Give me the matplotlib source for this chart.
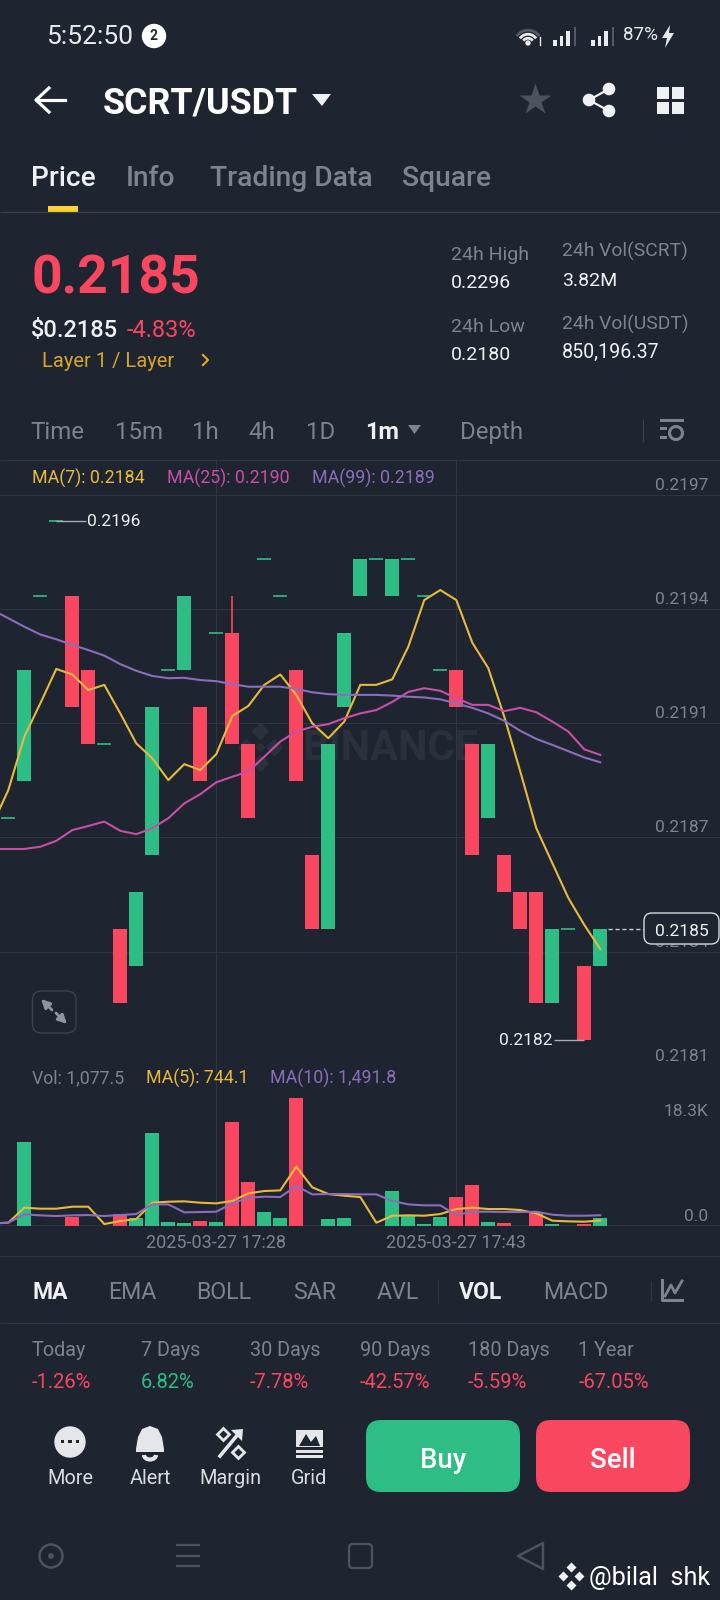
import numpy as np
import matplotlib
matplotlib.use('Agg')
import matplotlib.pyplot as plt
from matplotlib.patches import Circle, Rectangle, Polygon, FancyBboxPatch, Arc
from matplotlib.transforms import ScaledTranslation

plt.rcParams['font.family'] = ['Roboto', 'DejaVu Sans']

# candles, left to right, one per minute
opens = [0.2188, 0.2189, 0.2194, 0.2196, 0.2194, 0.2192, 0.2190, 0.2185, 0.2184, 0.2187,
         0.2192, 0.2192, 0.2191, 0.2193, 0.2193, 0.2190, 0.2195, 0.2194, 0.2192, 0.2187,
         0.2185, 0.2191, 0.2194, 0.2195, 0.2194, 0.2195, 0.2194, 0.2192, 0.2192, 0.2190,
         0.2188, 0.2187, 0.2186, 0.2186, 0.2183, 0.2185, 0.2184, 0.2184]
closes = [0.2188, 0.2192, 0.2194, 0.2196, 0.2191, 0.2190, 0.2190, 0.2183, 0.2186, 0.2191,
          0.2192, 0.2194, 0.2189, 0.2193, 0.2190, 0.2188, 0.2195, 0.2194, 0.2189, 0.2185,
          0.2190, 0.2193, 0.2195, 0.2195, 0.2195, 0.2195, 0.2194, 0.2192, 0.2191, 0.2187,
          0.2190, 0.2186, 0.2185, 0.2183, 0.2185, 0.2185, 0.2182, 0.2185]
is_up = [1, 1, 1, 1, 0, 0, 1, 0, 1, 1, 1, 1, 0, 1, 0, 0, 1, 1, 0, 0,
         1, 1, 1, 1, 1, 1, 1, 1, 0, 0, 1, 0, 0, 0, 1, 1, 0, 1]
wick_index = 14
wick_high = 0.2194

# moving averages start one step left of the first candle, it runs off the edge
ma7 = [0.218781, 0.218875, 0.219019, 0.219109, 0.219202, 0.219187, 0.219145, 0.219159, 0.219082, 0.219001,
       0.218961, 0.218902, 0.218945, 0.218929, 0.218972, 0.219075, 0.219102, 0.219159, 0.219187, 0.219132,
       0.219055, 0.219015, 0.219060, 0.219159, 0.219159, 0.219174, 0.219262, 0.219388, 0.219415, 0.219388,
       0.219273, 0.219204, 0.219073, 0.218925, 0.218772, 0.218678, 0.218584, 0.218511, 0.218446]
ma25 = [0.218716, 0.218716, 0.218716, 0.218722, 0.218738, 0.218767, 0.218778, 0.218790, 0.218765, 0.218756,
        0.218772, 0.218799, 0.218839, 0.218864, 0.218896, 0.218911, 0.218925, 0.218965, 0.219006, 0.219033,
        0.219046, 0.219053, 0.219069, 0.219082, 0.219091, 0.219113, 0.219140, 0.219150, 0.219143, 0.219123,
        0.219105, 0.219105, 0.219088, 0.219097, 0.219085, 0.219060, 0.219033, 0.218985, 0.218970]
ma99 = [0.219361, 0.219339, 0.219316, 0.219295, 0.219282, 0.219267, 0.219253, 0.219238, 0.219215, 0.219197,
        0.219183, 0.219177, 0.219178, 0.219172, 0.219169, 0.219161, 0.219154, 0.219154, 0.219154, 0.219148,
        0.219139, 0.219134, 0.219132, 0.219132, 0.219132, 0.219130, 0.219127, 0.219125, 0.219120, 0.219109,
        0.219097, 0.219082, 0.219062, 0.219035, 0.219013, 0.218997, 0.218980, 0.218963, 0.218950]

volumes = [0, 12010, 0, 0, 1190, 0, 0, 1716, 1144, 13300,
           477, 381, 667, 572, 14825, 6197, 2002, 1049, 18300, 0,
           906, 1096, 0, 0, 4957, 1430, 238, 1192, 4100, 5768,
           572, 334, 0, 1906, 286, 0, 238, 1077.5]
vol_ma5 = [334, 429, 2574, 2431, 2431, 2717, 2717, 238, 667, 953,
           3289, 3432, 3480, 3289, 3194, 3528, 4624, 4958, 5053, 8438,
           5482, 4529, 4290, 4100, 429, 1430, 1478, 1430, 1668, 2384,
           2574, 2384, 2384, 2240, 1764, 715, 620, 572, 744.1]
vol_ma10 = [334, 429, 1621, 1478, 1382, 1478, 1525, 1382, 1525, 1668,
            3051, 3051, 1907, 1954, 2002, 3194, 4004, 4147, 4100, 5673,
            4481, 4529, 4529, 4481, 4481, 3528, 3051, 2908, 2908, 1525,
            2002, 2002, 1954, 1954, 2002, 1573, 1430, 1430, 1491.8]

price_ticks = [0.219671, 0.219363, 0.219055, 0.218747, 0.218439, 0.218131]
vol_ticks = [18300, 0]
vol_tick_labels = ['18.3K', '0.0']
time_ticks = [13, 28]
time_labels = ['2025-03-27 17:28', '2025-03-27 17:43']

BG = '#1E2430'
RED = '#F9475F'
GREEN = '#2EBD85'
YELLOW = '#E8BA3C'
PINK = '#C650A6'
PURPLE = '#8B6DBB'
GRID = '#2F3541'
GREY = '#7C8491'
WHITE = '#EEF0F3'
ICON = '#4C535F'

W, H = 720, 1600
fig = plt.figure(figsize=(W / 100, H / 100), dpi=100, facecolor=BG)


def px_axes(top, bottom, zorder):
    a = fig.add_axes([0, 1 - bottom / H, 1, (bottom - top) / H], zorder=zorder)
    a.patch.set_alpha(0)
    for s in a.spines.values():
        s.set_visible(False)
    return a


def nudge(label, dy):
    # dy in pixels, up is positive
    label.set_transform(label.get_transform() + ScaledTranslation(0, dy / 100, fig.dpi_scale_trans))


bg = px_axes(0, H, 0)
main = px_axes(460, 1065.7, 1)
vol = px_axes(1065.7, 1225.7, 1)
ui = px_axes(0, H, 2)
for a in (bg, ui):
    a.set_xlim(0, W)
    a.set_ylim(H, 0)
    a.axis('off')

# candle chart
idx = np.arange(len(opens))
ma_idx = np.arange(-1, len(opens))
colors = [GREEN if u else RED for u in is_up]
o = np.array(opens)
c = np.array(closes)
xlim = (-8.3 / 16, (W - 8.3) / 16)
bw = 14.3 / 16

main.set_xlim(*xlim)
main.set_ylim(0.218131, 0.219766)
main.bar(idx, np.abs(c - o), bottom=np.minimum(o, c), width=bw, color=colors, zorder=3)
flat = o == c
main.hlines(o[flat], idx[flat] - 0.44, idx[flat] + 0.44, color=GREEN, lw=1.2, zorder=3)
main.vlines(wick_index, opens[wick_index], wick_high, color=RED, lw=1.2, zorder=3)
main.plot(ma_idx, ma7, color=YELLOW, lw=1.5, zorder=4)
main.plot(ma_idx, ma25, color=PINK, lw=1.5, zorder=4)
main.plot(ma_idx, ma99, color=PURPLE, lw=1.5, zorder=4)

main.set_yticks(price_ticks)
main.set_yticklabels(['%.4f' % p for p in price_ticks], ha='right', va='bottom')
main.yaxis.tick_right()
main.tick_params(axis='y', length=0, pad=-8.6, labelsize=12.5, labelcolor=GREY)
for lab in main.get_yticklabels():
    nudge(lab, 2)
main.set_xticks(time_ticks)
main.tick_params(axis='x', length=0, labelbottom=False)
main.grid(color=GRID, lw=0.8, zorder=0)
main.set_axisbelow(True)

# volume panel
vol.set_xlim(*xlim)
vol.set_ylim(0, 22880)
vol.bar(idx, volumes, width=bw, color=colors, zorder=3)
vol.plot(ma_idx, vol_ma5, color=YELLOW, lw=1.5, zorder=4)
vol.plot(ma_idx, vol_ma10, color=PURPLE, lw=1.5, zorder=4)
vol.set_yticks(vol_ticks)
vol.set_yticklabels(vol_tick_labels, ha='right')
vol.yaxis.tick_right()
vol.tick_params(axis='y', length=0, pad=-8.6, labelsize=12.5, labelcolor=GREY)
vol.get_yticklabels()[0].set_va('top')
vol.get_yticklabels()[1].set_va('bottom')
nudge(vol.get_yticklabels()[0], -6)
nudge(vol.get_yticklabels()[1], 2)
vol.set_xticks(time_ticks)
vol.set_xticklabels(time_labels)
vol.tick_params(axis='x', length=0, pad=6, labelsize=13, labelcolor=GREY)
vol.grid(axis='x', color=GRID, lw=0.8, zorder=0)
vol.axhline(0, color=GRID, lw=1.2, zorder=1)
vol.set_axisbelow(True)


def t(x, y, s, size, color=WHITE, ha='left', weight='normal', ax=ui):
    ax.text(x, y + 1.5, s, fontsize=size, color=color, ha=ha, va='center', fontweight=weight)


def hline(y, x0=0, x1=W, color=GRID, lw=0.9):
    ui.plot([x0, x1], [y, y], color=color, lw=lw, solid_capstyle='butt')


def vline(x, y0, y1, color=GRID, lw=0.9):
    ui.plot([x, x], [y0, y1], color=color, lw=lw, solid_capstyle='butt')


def rect(x, y, w, h, color):
    ui.add_patch(Rectangle((x, y), w, h, color=color, lw=0))


def rbox(x0, y0, x1, y1, r, face, edge='none', lw=0, z=5):
    ui.add_patch(FancyBboxPatch((x0 + r, y0 + r), x1 - x0 - 2 * r, y1 - y0 - 2 * r,
                                boxstyle='round,pad=%s,rounding_size=%s' % (r, r),
                                fc=face, ec=edge, lw=lw, zorder=z))


# watermark behind the candles
WM = '#2A303C'
for cx, cy, ms in [(260, 731, 11), (246, 747, 11), (274, 747, 11), (260, 763, 11), (260, 747, 6)]:
    bg.plot(cx, cy, marker='D', ms=ms * 0.72, color=WM, ls='none')
bg.text(390, 749, 'BINANCE', fontsize=30, color=WM, fontweight='bold', ha='center', va='center')

# status bar
t(46, 35, '5:52:50', 19, '#E8EAED')
ui.add_patch(Circle((154, 36), 11.5, color='white'))
ui.text(154, 36.5, '2', fontsize=10, color=BG, ha='center', va='center', fontweight='bold')
for r, col in [(24, '#555B66'), (17, '#E8EAED'), (10, '#E8EAED')]:
    ui.add_patch(Arc((528, 44), r * 1.15, r * 1.15, theta1=215, theta2=325, color=col, lw=2))
ui.add_patch(Circle((528, 43), 2, color='#E8EAED'))
ui.plot([540, 540], [37, 45], color='#E8EAED', lw=1)
for x0 in (553, 591):
    for k, h in enumerate((6, 10, 15)):
        rect(x0 + k * 6.5, 46 - h, 3.5, h, '#E8EAED')
    rect(x0 + 21, 27, 2, 19, '#555B66')
t(623, 34, '87%', 13.5, '#E8EAED')
ui.add_patch(Polygon([[670, 25], [662, 38], [667, 38], [665, 48], [674, 33], [669, 33]], color='#E8EAED', lw=0))

# title bar
ui.plot([65, 37], [100, 100], color='white', lw=2.3)
ui.plot([49, 36, 49], [88, 100, 112], color='white', lw=2.3)
t(103, 102, 'SCRT/USDT', 25.8, 'white', weight='bold')
ui.add_patch(Polygon([[312, 94], [331, 94], [322, 106]], color=WHITE, lw=0))
ui.plot(535, 100, marker='*', ms=24, color=ICON, mec='none')
for x, y in [(609, 89), (589, 100), (609, 111)]:
    ui.add_patch(Circle((x, y), 5.6, color=WHITE))
ui.plot([609, 589, 609], [89, 100, 111], color=WHITE, lw=1.6)
for x, y in [(657, 87), (672, 87), (657, 102), (672, 102)]:
    rect(x, y, 11.5, 11.5, WHITE)

# tabs
t(31, 177, 'Price', 20.2, WHITE, weight='medium')
t(126, 177, 'Info', 20.2, GREY, weight='medium')
t(210, 177, 'Trading Data', 20.3, GREY, weight='medium')
t(402, 177, 'Square', 20.3, GREY, weight='medium')
rect(48, 206, 30, 6, '#FCD535')
hline(212, color='#3A404B')

# price block
t(31, 277, '0.2185', 38.5, RED, weight='bold')
t(31, 329, '$0.2185', 17, WHITE, weight='medium')
t(127, 329, '-4.83%', 17, RED)
t(42, 360, 'Layer 1 / Layer', 14.5, '#D6A62C')
ui.plot([203, 208, 203], [355, 360, 365], color='#D6A62C', lw=1.6)
t(451, 253, '24h High', 14, GREY)
t(451, 281, '0.2296', 14, WHITE)
t(451, 325, '24h Low', 14, GREY)
t(451, 353, '0.2180', 14, WHITE)
t(562, 250, '24h Vol(SCRT)', 13.9, GREY)
t(562, 279, '3.82M', 14, WHITE)
t(562, 323, '24h Vol(USDT)', 13.9, GREY)
t(562, 351, '850,196.37', 14.1, WHITE)

# interval row
for x, s in [(30, 'Time'), (115, '15m'), (192, '1h'), (248, '4h'), (306, '1D'), (460, 'Depth')]:
    t(x, 431, s, 17.3, GREY)
t(365, 431, '1m', 17, WHITE, weight='bold')
ui.add_patch(Polygon([[408, 425], [421, 425], [414.5, 434]], color=GREY, lw=0))
vline(643, 419, 442, color='#3A404B')
rect(660, 419, 24, 2.5, GREY)
rect(660, 427, 7, 2.5, GREY)
rect(660, 436, 7, 2.5, GREY)
ui.add_patch(Circle((676, 433), 6.5, fc='none', ec=GREY, lw=2.2))

# chart legends
hline(460)
t(32, 477, 'MA(7): 0.2184', 12.8, YELLOW)
t(167, 477, 'MA(25): 0.2190', 12.8, PINK)
t(312, 477, 'MA(99): 0.2189', 12.8, PURPLE)
t(32, 1076.5, 'Vol: 1,077.5', 12.8, GREY)
t(146, 1076.5, 'MA(5): 744.1', 12.8, YELLOW)
t(270, 1076.5, 'MA(10): 1,491.8', 12.8, PURPLE)

# high / low callouts and last price tag
hline(521, 56, 86, '#A9AEB6', 1)
t(87, 520, '0.2196', 12.5, WHITE)
hline(1040, 554, 584, '#A9AEB6', 1)
t(499, 1039, '0.2182', 12.5, WHITE)
ui.plot([608, 644], [929, 929], color='#C8CCD2', lw=1, ls=(0, (3, 2)))
rbox(644, 913, 719, 944, 8, BG, '#D5D8DD', 1)
ui.text(681.5, 931, '0.2185', fontsize=12.6, color=WHITE, ha='center', va='center', zorder=6)

# expand button
rbox(32.5, 991, 76, 1033, 9, 'none', '#3A404B', 1.1)
ui.annotate('', xy=(41, 999), xytext=(52, 1010),
            arrowprops=dict(arrowstyle='-|>', color='#8E95A0', lw=2, mutation_scale=13, shrinkA=0, shrinkB=0))
ui.annotate('', xy=(67, 1024), xytext=(56, 1013),
            arrowprops=dict(arrowstyle='-|>', color='#8E95A0', lw=2, mutation_scale=13, shrinkA=0, shrinkB=0))

# indicator row
hline(1256)
for x, s in [(108, 'EMA'), (196.5, 'BOLL'), (293, 'SAR'), (377, 'AVL'), (543.5, 'MACD')]:
    t(x, 1291, s, 16.7, GREY)
t(33, 1291, 'MA', 16.5, WHITE, weight='bold')
t(459, 1291, 'VOL', 16.5, WHITE, weight='bold')
vline(438, 1279, 1303)
vline(651, 1281, 1301)
ui.plot([662, 662, 682], [1280, 1300, 1300], color=GREY, lw=2.2)
ui.plot([665, 671, 675, 682], [1296, 1285, 1293, 1281], color=GREY, lw=2)
hline(1323)

# performance row
period_x = [32, 141, 250, 359.5, 468, 578.5]
period_names = ['Today', '7 Days', '30 Days', '90 Days', '180 Days', '1 Year']
period_vals = ['-1.26%', '6.82%', '-7.78%', '-42.57%', '-5.59%', '-67.05%']
for x, n, v in zip(period_x, period_names, period_vals):
    t(x, 1349.5, n, 14.3, GREY)
    t(x, 1381, v, 14.5, GREEN if not v.startswith('-') else RED)

# action icons
ACT = '#E4E6EA'
ui.add_patch(Circle((70, 1442), 15, color=ACT))
for x in (62.5, 70, 77.5):
    rect(x - 1.7, 1440, 3.4, 3.4, BG)
ui.add_patch(Polygon([[136, 1449], [138, 1437], [142, 1429], [150, 1426], [158, 1429], [162, 1437], [164, 1449]],
                     color=ACT, lw=0))
rect(136, 1449, 28, 3, ACT)
ui.add_patch(Arc((150, 1455), 12, 9, theta1=0, theta2=180, color=ACT, lw=3))
ui.plot([220, 239], [1456, 1433], color=ACT, lw=2.6)
ui.add_patch(Polygon([[231, 1430], [243, 1429], [242, 1441]], color=ACT, lw=0))
ui.plot(223, 1434, marker='D', ms=6, mfc='none', mec=ACT, mew=2)
ui.plot(238, 1452, marker='D', ms=6, mfc='none', mec=ACT, mew=2)
ui.add_patch(Polygon([[296, 1430], [323, 1430], [323, 1447], [296, 1447]], color=ACT, lw=0))
ui.add_patch(Polygon([[299, 1446], [306, 1434], [311, 1442], [316, 1436], [320, 1446]], color=BG, lw=0))
rect(296, 1450, 27, 3, ACT)
rect(296, 1455, 27, 2.5, ACT)
for x, s in [(70, 'More'), (150, 'Alert'), (230.5, 'Margin'), (309.5, 'Grid')]:
    t(x, 1477, s, 14.3, '#D8DBE0', 'center')
rbox(366, 1420, 520, 1492, 15, GREEN)
rbox(536, 1420, 690, 1492, 15, RED)
ui.text(443, 1460, 'Buy', fontsize=20, color='white', ha='center', va='center', fontweight='medium', zorder=6)
ui.text(613, 1460, 'Sell', fontsize=20, color='white', ha='center', va='center', fontweight='medium', zorder=6)

# android nav bar
ui.add_patch(Circle((51, 1556), 11.5, fc='none', ec=ICON, lw=1.8))
ui.add_patch(Circle((51, 1556), 2.2, color=ICON))
for y in (1545, 1556, 1566):
    hline(y, 176, 200, ICON, 1.6)
rbox(349, 1544, 372, 1568, 4, 'none', ICON, 1.6)
ui.add_patch(Polygon([[543, 1543], [543, 1569], [518, 1556]], fc='none', ec=ICON, lw=1.8, joinstyle='round'))

# share watermark
for cx, cy in [(571, 1567), (563, 1576), (579, 1576), (571, 1585)]:
    ui.plot(cx, cy, marker='D', ms=5.5, color=WHITE, mec='none')
t(589, 1576, '@bilal  shk', 18.2, 'white')

fig.savefig('out.png', dpi=100, facecolor=BG)
